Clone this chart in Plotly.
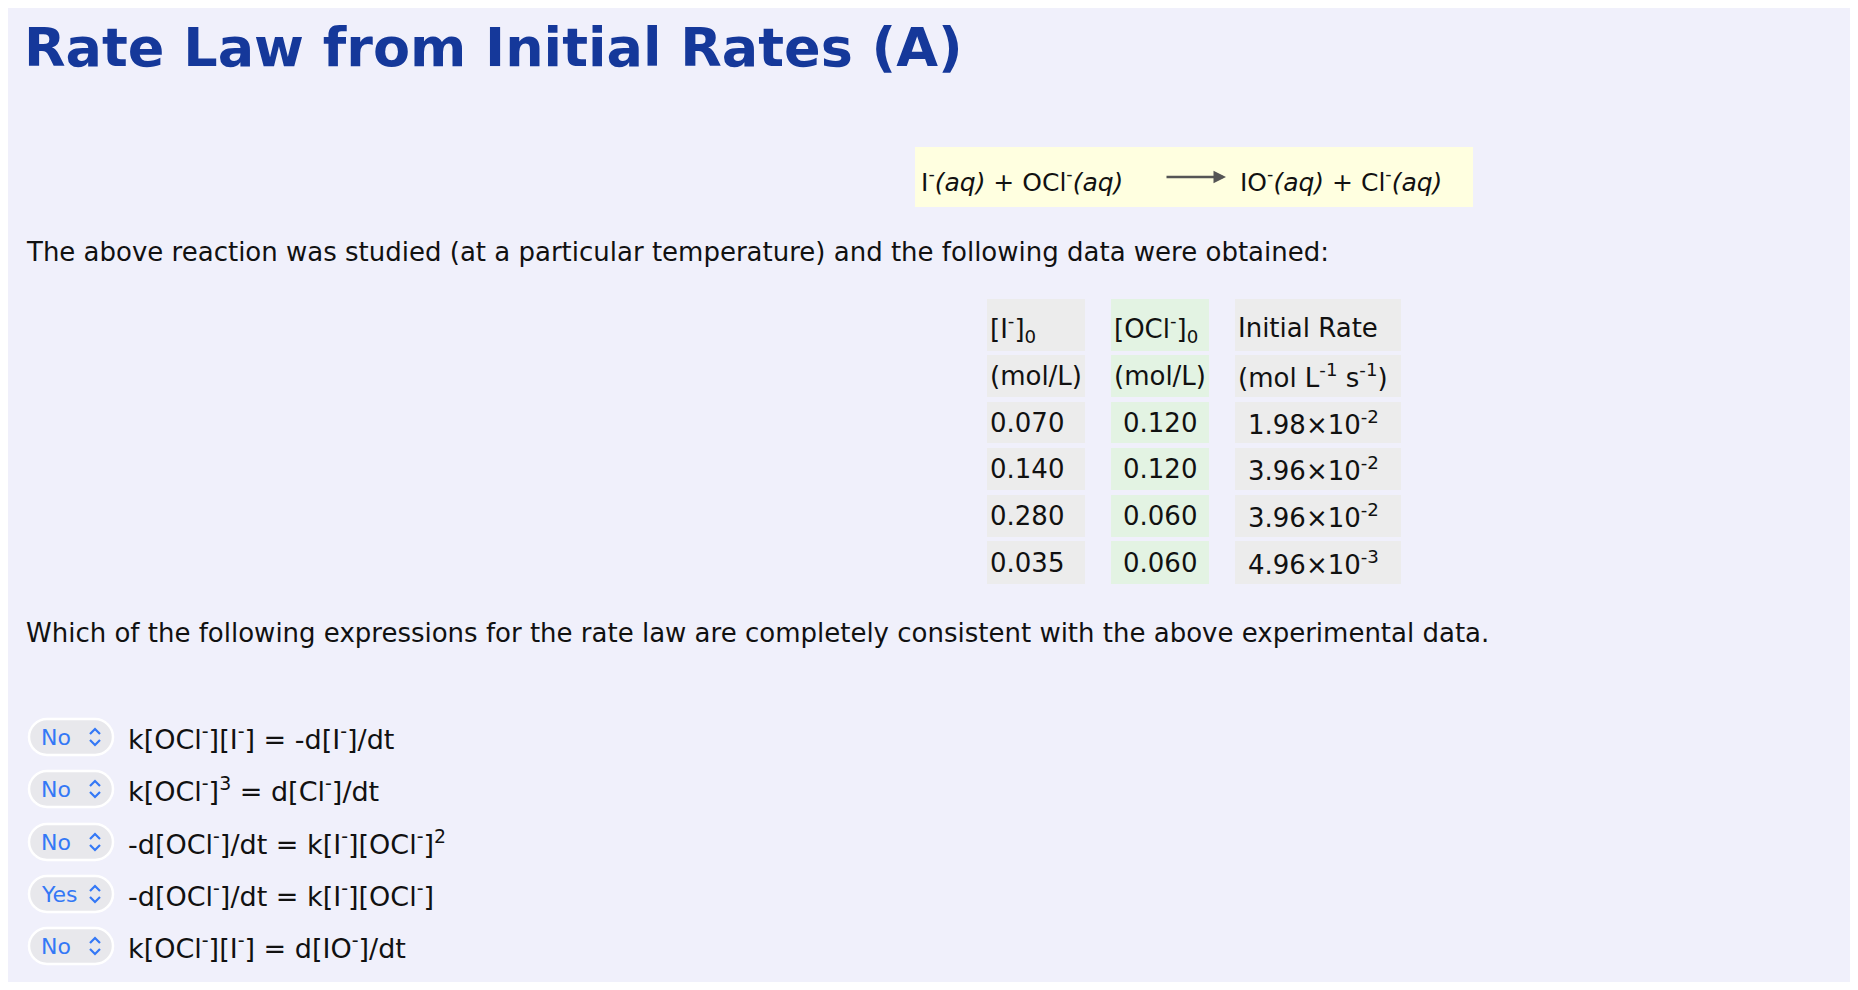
import plotly.graph_objects as go

W, H = 1858, 990
M = 8  # browser body margin compensation
BG = "#f0f0fb"
FONT = "DejaVu Sans"

title = "Rate Law from Initial Rates (A)"
reactants = "I<sup>-</sup><i>(aq)</i> + OCl<sup>-</sup><i>(aq)</i>"
products = "IO<sup>-</sup><i>(aq)</i> + Cl<sup>-</sup><i>(aq)</i>"
intro = "The above reaction was studied (at a particular temperature) and the following data were obtained:"
question = "Which of the following expressions for the rate law are completely consistent with the above experimental data."

col_headers = ["[I<sup>-</sup>]<sub>0</sub>", "[OCl<sup>-</sup>]<sub>0</sub>", "Initial Rate"]
col_units = ["(mol/L)", "(mol/L)", "(mol L<sup>-1</sup> s<sup>-1</sup>)"]
conc_I = ["0.070", "0.140", "0.280", "0.035"]
conc_OCl = ["0.120", "0.120", "0.060", "0.060"]
rates = ["1.98×10<sup>-2</sup>", "3.96×10<sup>-2</sup>", "3.96×10<sup>-2</sup>", "4.96×10<sup>-3</sup>"]

answers = ["No", "No", "No", "Yes", "No"]
expressions = [
    "k[OCl<sup>-</sup>][I<sup>-</sup>] = -d[I<sup>-</sup>]/dt",
    "k[OCl<sup>-</sup>]<sup>3</sup> = d[Cl<sup>-</sup>]/dt",
    "-d[OCl<sup>-</sup>]/dt = k[I<sup>-</sup>][OCl<sup>-</sup>]<sup>2</sup>",
    "-d[OCl<sup>-</sup>]/dt = k[I<sup>-</sup>][OCl<sup>-</sup>]",
    "k[OCl<sup>-</sup>][I<sup>-</sup>] = d[IO<sup>-</sup>]/dt",
]

fig = go.Figure()
shapes, ann = [], []

def text(x, y, s, size=25, color="#111111", xanchor="left", bold=False, family=FONT):
    ann.append(dict(x=x, y=y, xref="x", yref="y", text=(f"<b>{s}</b>" if bold else s),
                    showarrow=False, xanchor=xanchor, yanchor="middle",
                    font=dict(family=family, size=size, color=color)))

text(22, 47, title, size=54, color="#15389a", bold=True)

# equation box
shapes.append(dict(type="rect", xref="x", yref="y", x0=915, x1=1473, y0=147, y1=207,
                   fillcolor="#ffffe0", line=dict(width=0), layer="below"))
text(919, 180, reactants, size=25)
text(1238, 180, products, size=25)
ann.append(dict(x=1226, y=177, ax=1165, ay=177, xref="x", yref="y", axref="x", ayref="y",
                text="", showarrow=True, arrowhead=2, arrowsize=1, arrowwidth=2.5, arrowcolor="#555555"))

text(24, 252, intro, size=26)

# table
col_x = [(987, 1085), (1111, 1209), (1235, 1401)]
col_fill = ["#ececec", "#e3f3e3", "#ececec"]
row_y = [(299, 351), (355, 397), (402, 443), (448, 490), (495, 537), (541, 584)]
columns = [[col_headers[0], col_units[0]] + conc_I,
           [col_headers[1], col_units[1]] + conc_OCl,
           [col_headers[2], col_units[2]] + rates]
for ci, (x0, x1) in enumerate(col_x):
    for ri, (y0, y1) in enumerate(row_y):
        shapes.append(dict(type="rect", xref="x", yref="y", x0=x0, x1=x1, y0=y0, y1=y1,
                           fillcolor=col_fill[ci], line=dict(width=0), layer="below"))
        s = columns[ci][ri]
        yc = (y0 + y1) / 2 + (3 if ri == 0 else 0)
        if ci == 0 or ri < 2:
            text(x0 + 1, yc, s, size=26)
        elif ci == 1:
            text((x0 + x1) / 2, yc, s, size=26, xanchor="center")
        else:
            text(1313, yc, s, size=26, xanchor="center")

text(24, 633, question, size=26)

# select pills and expressions
ys = [737, 789, 842, 894, 946]
for a, e, yc in zip(answers, expressions, ys):
    x0, x1, h = 29, 113, 36
    r = h / 2
    y0, y1 = yc - r, yc + r
    k = 0.55 * r
    path = (f"M {x0+r},{y0} L {x1-r},{y0} C {x1-r+k},{y0} {x1},{yc-k} {x1},{yc} "
            f"C {x1},{yc+k} {x1-r+k},{y1} {x1-r},{y1} L {x0+r},{y1} "
            f"C {x0+r-k},{y1} {x0},{yc+k} {x0},{yc} C {x0},{yc-k} {x0+r-k},{y0} {x0+r},{y0} Z")
    shapes.append(dict(type="path", xref="x", yref="y", path=path, fillcolor="#e8e8ec",
                       line=dict(color="#ffffff", width=2.5), layer="below"))
    cx = 95
    shapes.append(dict(type="path", xref="x", yref="y",
                       path=f"M {cx-5},{yc-3} L {cx},{yc-8} L {cx+5},{yc-3}",
                       line=dict(color="#3478f6", width=2.2)))
    shapes.append(dict(type="path", xref="x", yref="y",
                       path=f"M {cx-5},{yc+3} L {cx},{yc+8} L {cx+5},{yc+3}",
                       line=dict(color="#3478f6", width=2.2)))
    text(39, yc, a, size=22, color="#3478f6")
    text(126, yc, e, size=27)

fig.update_layout(
    width=W - 2 * M, height=H - 2 * M, margin=dict(l=0, r=0, t=0, b=0),
    paper_bgcolor=BG, plot_bgcolor=BG, showlegend=False,
    xaxis=dict(range=[M, W - M], visible=False, fixedrange=True),
    yaxis=dict(range=[H - M, M], visible=False, fixedrange=True),
    shapes=shapes, annotations=ann,
)
fig.write_html("out.html", config={"displayModeBar": False})
